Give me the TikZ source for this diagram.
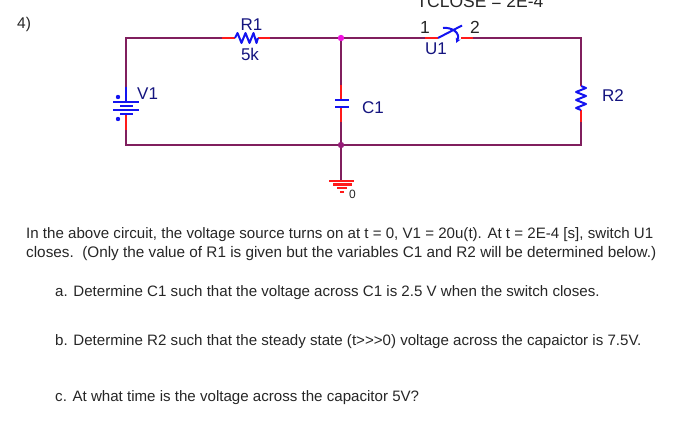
\documentclass[tikz,border=0pt]{standalone}
\usepackage{fontspec}
\setmainfont{Liberation Sans}
\usetikzlibrary{arrows.meta}
\definecolor{wirecol}{HTML}{801F5E}
\definecolor{leadcol}{HTML}{FF1A1A}
\definecolor{partcol}{HTML}{1414F0}
\definecolor{labcol}{HTML}{14147F}
\definecolor{dotcol}{HTML}{F010E0}
\tikzset{
  x=1pt,y=-1pt,
  wire/.style={draw=wirecol,line width=2.6pt},
  lead/.style={draw=leadcol,line width=2.6pt},
  part/.style={draw=partcol,line width=2pt},
  gnd/.style={draw=leadcol,line width=2.2pt},
  lab/.style={inner sep=0pt,text=labcol,font=\fontsize{17}{17}\selectfont},
  pin/.style={inner sep=0pt,text=black!85,font=\fontsize{17.5}{17.5}\selectfont},
  para/.style={inner sep=0pt,anchor=base west,text=black!85,font=\fontsize{15.1}{15.1}\selectfont},
}
\begin{document}
\begin{tikzpicture}
\useasboundingbox (0,0) rectangle (684,426);
\clip (0,0) rectangle (684,426);
% wiring points
\coordinate (tl) at (126,38);
\coordinate (bl) at (126,145);
\coordinate (tr) at (581,38);
\coordinate (br) at (581,145);
\coordinate (jt) at (341,38);
\coordinate (jb) at (341,145);
\coordinate (r1a) at (222,38);
\coordinate (r1b) at (270,38);
\coordinate (r1c) at (235,38);
\coordinate (r1d) at (258,38);
\coordinate (u1a) at (425,38);
\coordinate (u1b) at (438,38);
\coordinate (u1c) at (461,38);
\coordinate (u1d) at (473,38);
\coordinate (v1t) at (126,87);
\coordinate (v1p) at (126,102);
\coordinate (v1q) at (126,114);
\coordinate (v1b) at (126,130);
\coordinate (c1t) at (341,85);
\coordinate (c1p) at (341,100);
\coordinate (c1q) at (341,107);
\coordinate (c1b) at (341,122);
\coordinate (r2t) at (581,85);
\coordinate (r2p) at (581,86);
\coordinate (r2q) at (581,110);
\coordinate (r2b) at (581,122);
\coordinate (g) at (341,180);
% red leads
\draw[lead] (r1a) -- (r1b);
\draw[lead] (u1a) -- (u1b);
\draw[lead] (u1c) -- (u1d);
\draw[lead] (v1q) -- (v1b);
\draw[lead] (c1t) -- (c1b);
\draw[lead] (r2t) -- (r2b);
% wires
\draw[wire] (r1a) -- (tl) -- (v1t);
\draw[wire] (v1b) -- (bl) -- (br) -- (r2b);
\draw[wire] (r1b) -- (u1a);
\draw[wire] (u1d) -- (tr) -- (r2t);
\draw[wire] (jt) -- (c1t);
\draw[wire] (c1b) -- (g);
% white gap under parts, then R1
\draw[draw=white,line width=3pt] (r1c) -- (r1d);
\draw[part,line join=round] (r1c) -- ++(2.5,-5) -- ++(4,10) -- ++(4,-10) -- ++(4,10) -- ++(4,-10) -- ++(3,10) -- (r1d);
% R2
\draw[draw=white,line width=3pt] (r2p) -- (r2q);
\draw[part,line join=round] (r2p) -- ++(5,2) -- ++(-10,4) -- ++(10,4) -- ++(-10,4) -- ++(10,4) -- ++(-10,4) -- (r2q);
% V1
\draw[part] (v1t) -- (v1p);
\draw[part] (113,102) -- (139,102);
\draw[part] (120,106) -- (133,106);
\draw[part] (113,109.5) -- (139,109.5);
\draw[part] (120,114) -- (133,114);
\fill[partcol] (118,97) circle (2.2);
\fill[partcol] (118,119) circle (2.2);
% C1
\draw[draw=white,line width=3pt] (c1p) -- (c1q);
\draw[part] (335,100) -- (349,100);
\draw[part] (335,107) -- (349,107);
% U1
\draw[part] (u1b) -- (462,25.5);
\draw[part,-{Stealth[length=5pt,width=5pt]}] (443,28) .. controls (452,27) and (461,33) .. (456,43);
% ground
\draw[gnd] (329,181) -- (354,181);
\draw[gnd] (333,184.5) -- (352,184.5);
\draw[gnd] (337,188) -- (347,188);
\draw[gnd] (340,192) -- (344,192);
% junctions
\fill[dotcol] (jt) circle (3.2);
\fill[wirecol!80!dotcol] (jb) circle (3.2);
% labels
\node[pin,anchor=base west,font=\fontsize{15.5}{15.5}\selectfont] (n4) at (17,28) {4)};
\node[lab,anchor=base] (lr1) at (251.5,30) {R1};
\node[lab,anchor=base] (lr1v) at (250,60) {5k};
\node[pin,anchor=base] (tc) at (480,7) {TCLOSE = 2E-4};
\node[pin,anchor=base] (p1) at (425,33) {1};
\node[pin,anchor=base] (p2) at (475,33) {2};
\node[lab,anchor=base] (lu1) at (436,54) {U1};
\node[lab,anchor=base west] (lv1) at (137,99) {V1};
\node[lab,anchor=base west] (lc1) at (362,113) {C1};
\node[lab,anchor=base west] (lr2) at (602,101) {R2};
\node[inner sep=0pt,anchor=base west,text=black!85,font=\fontsize{12}{12}\selectfont] (l0) at (349,198) {0};
% text
\node[para] (t1) at (26,238) {In the above circuit, the voltage source turns on at t = 0, V1 = 20u(t).  At t = 2E-4 [s], switch U1};
\node[para,font=\fontsize{15.3}{15.3}\selectfont] (t2) at (26,257) {closes.\ \ (Only the value of R1 is given but the variables C1 and R2 will be determined below.)};
\node[para] (ta) at (55,296) {a. Determine C1 such that the voltage across C1 is 2.5 V when the switch closes.};
\node[para] (tb) at (55,345) {b. Determine R2 such that the steady state (t{>}{>}{>}0) voltage across the capaictor is 7.5V.};
\node[para] (tc2) at (55,401) {c. At what time is the voltage across the capacitor 5V?};
\end{tikzpicture}
\end{document}
